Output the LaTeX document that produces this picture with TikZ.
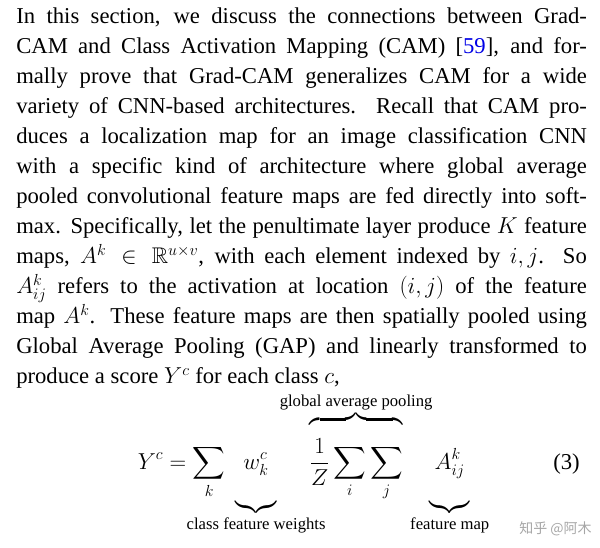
\documentclass[tikz,border=0pt]{standalone}
\usepackage{amsmath}
\usepackage{amssymb}
\usepackage{mathtools}
\usepackage{fontspec}
\setmainfont{Liberation Serif}
\newfontfamily\cjk{Noto Sans CJK SC}
\definecolor{linkblue}{RGB}{0,0,230}
\newcommand{\lbl}[1]{\text{\fontsize{12.5pt}{15pt}\selectfont #1}}
\tikzset{para/.style={anchor=north west,inner sep=0pt,text width=428pt,align=justify,font=\fontsize{17pt}{22.5pt}\selectfont},
eq/.style={inner sep=0pt,font=\fontsize{17pt}{19.5pt}\selectfont},
mark3/.style={anchor=base east,inner sep=0pt,font=\fontsize{17pt}{19.5pt}\selectfont},
wm/.style={anchor=base east,inner sep=0pt,text=gray!70,font=\cjk\fontsize{10.5pt}{12pt}\selectfont}}
\begin{document}
\begin{tikzpicture}[x=1pt,y=1pt]
\useasboundingbox (0,0) rectangle (450,-410.25);
\node[para] (txt) at (12,-6) {In this section, we discuss the connections between Grad-\linebreak
CAM and Class Activation Mapping (CAM) [\textcolor{linkblue}{59}], and for-\linebreak
mally prove that Grad-CAM generalizes CAM for a wide\linebreak
variety of CNN-based architectures. Recall that CAM pro-\linebreak
duces a localization map for an image classification CNN\linebreak
with a specific kind of architecture where global average\linebreak
pooled convolutional feature maps are fed directly into soft-\linebreak
max. Specifically, let the penultimate layer produce $K$ feature\linebreak
maps, $A^k\in\mathbb{R}^{u\times v}$, with each element indexed by $i,j$. So\linebreak
$A^k_{ij}$ refers to the activation at location $(i,j)$ of the feature\linebreak
map $A^k$. These feature maps are then spatially pooled using\linebreak
Global Average Pooling (GAP) and linearly transformed to\linebreak
produce a score $Y^c$ for each class $c$,\par};
\node[eq,anchor=base] (eqn) at (228,-352) {$\displaystyle Y^c=\sum_k\;\underbrace{\vphantom{\sum_k}w^c_k}_{\mathclap{\lbl{class feature weights}}}\quad\;\overbrace{\vphantom{\sum^k}\frac{1}{Z}\sum_i\sum_j}^{\mathclap{\lbl{global average pooling}}}\quad\underbrace{\vphantom{\sum_k}A^k_{ij}}_{\mathclap{\lbl{feature map}}}$};
\node[mark3] (num) at (435,-352) {(3)};
\node[wm] (wmk) at (444,-400) {知乎 @阿木};
\end{tikzpicture}
\end{document}
